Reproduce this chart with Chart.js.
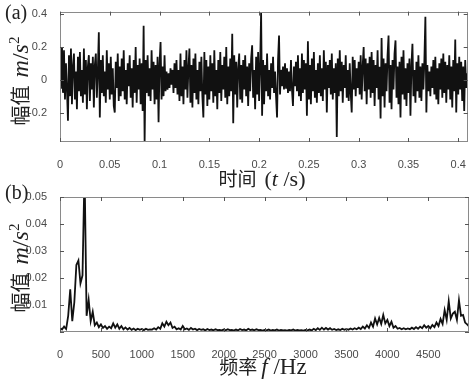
<!DOCTYPE html>
<html>
<head>
<meta charset="utf-8">
<script src="https://cdn.jsdelivr.net/npm/chart.js@4"></script>
<style>
  body { margin: 0; background: #fff; }
  #wrap { position: relative; width: 474px; height: 384px; overflow: hidden; }
  canvas { position: absolute; left: 0; }
  .txt { position: absolute; white-space: nowrap; color: #222; font-family: "Liberation Serif", serif; }
  .cjk { font-family: "Noto Sans CJK SC", sans-serif; }
  .ytitle { transform: translate(-50%, -50%) rotate(-90deg); }
  .xtitle { transform: translate(-50%, -50%); }
</style>
</head>
<body>
<div id="wrap">
  <canvas id="chart-a" width="474" height="170" style="top:0px"></canvas>
  <canvas id="chart-b" width="474" height="180" style="top:180px"></canvas>

  <div class="txt" style="left:5px;top:1px;font-size:20px">(a)</div>
  <div class="txt" style="left:5px;top:181px;font-size:20px">(b)</div>

  <div class="txt ytitle" style="left:19px;top:81px"><span class="cjk" style="font-size:20px">幅值</span>&nbsp;&nbsp;<span style="font-size:24px"><i>m</i>/<i>s</i><sup style="font-size:15px">2</sup></span></div>
  <div class="txt ytitle" style="left:19px;top:268px"><span class="cjk" style="font-size:20px">幅值</span>&nbsp;&nbsp;<span style="font-size:24px"><i>m</i>/<i>s</i><sup style="font-size:15px">2</sup></span></div>

  <div class="txt xtitle" style="left:262px;top:178px"><span class="cjk" style="font-size:19px">时间</span>&nbsp;&nbsp;<span style="font-size:22px">(<i>t</i> /s)</span></div>
  <div class="txt xtitle" style="left:263px;top:366px"><span class="cjk" style="font-size:19px">频率</span>&nbsp;<span style="font-size:23px"><i>f</i> /Hz</span></div>
</div>

<script>
// (a) time signal, one value per ms
const sample_step = 0.001;
const signal_amplitude = [
  -0.05, 0.12, 0.2, -0.08, 0.18, -0.12, 0.1, -0.06, -0.25, 0.15,
  -0.1, 0.19, -0.15, 0.08, 0.16, -0.12, 0.05, -0.18, 0.14, -0.07,
  0.17, -0.1, 0.06, -0.14, 0.19, -0.09, 0.12, -0.18, 0.08, 0.15,
  -0.13, 0.1, -0.06, 0.14, -0.17, 0.09, 0.16, -0.11, 0.05, 0.29,
  -0.23, 0.12, -0.08, 0.15, -0.1, 0.05, -0.14, 0.18, -0.06, 0.1,
  -0.12, 0.14, -0.09, 0.07, -0.16, -0.2, 0.11, -0.05, 0.16, -0.13,
  0.08, -0.1, 0.13, -0.07, 0.18, -0.12, 0.06, -0.15, 0.1, -0.04,
  0.15, -0.11, 0.07, -0.17, 0.12, -0.08, 0.2, -0.14, 0.09, -0.06,
  0.13, -0.15, 0.1, -0.19, 0.33, -0.38, 0.12, -0.08, 0.15, -0.1,
  0.07, -0.13, 0.18, -0.06, 0.11, -0.15, 0.09, -0.12, 0.14, -0.26,
  0.1, 0.23, -0.12, 0.08, -0.1, 0.15, -0.07, 0.05, -0.06, 0.04,
  -0.05, 0.07, -0.03, 0.06, -0.08, 0.1, -0.05, 0.12, -0.09, 0.06,
  -0.13, 0.16, -0.1, 0.08, -0.15, 0.12, -0.06, 0.18, -0.11, 0.07,
  0.19, -0.14, 0.09, -0.17, 0.13, -0.08, 0.16, -0.12, 0.06, -0.15,
  0.11, -0.07, 0.14, -0.1, -0.23, 0.17, -0.09, 0.12, -0.16, 0.08,
  -0.12, 0.15, -0.07, 0.1, -0.14, 0.18, -0.1, 0.06, -0.18, 0.12,
  -0.08, 0.17, -0.13, 0.09, -0.06, 0.14, -0.11, 0.2, -0.15, 0.08,
  -0.1, 0.13, -0.07, 0.28, -0.265, 0.15, -0.09, 0.11, -0.17, 0.07,
  0.16, -0.12, 0.09, -0.14, 0.12, -0.06, 0.15, -0.1, 0.08, -0.16,
  0.1, -0.07, 0.13, 0.21, -0.11, 0.06, -0.18, 0.14, -0.09, 0.17,
  -0.13, 0.08, 0.412, -0.22, 0.12, -0.15, 0.09, -0.07, 0.16, -0.1,
  0.06, -0.12, 0.1, -0.05, 0.14, -0.08, 0.05, -0.1, -0.23, 0.12,
  0.27, -0.09, 0.06, -0.04, 0.08, -0.06, 0.1, -0.05, 0.07, -0.08,
  0.05, -0.07, 0.12, -0.06, -0.16, 0.08, -0.04, 0.11, -0.07, 0.15,
  -0.1, 0.07, -0.13, 0.16, -0.08, 0.12, -0.06, 0.1, -0.22, 0.235,
  -0.12, 0.09, -0.15, 0.13, -0.07, 0.17, -0.11, 0.06, -0.14, 0.1,
  -0.08, 0.15, -0.1, 0.07, -0.13, 0.18, -0.06, 0.11, -0.2, 0.09,
  -0.05, 0.12, -0.09, 0.16, -0.12, 0.07, -0.08, 0.1, -0.35, 0.13,
  -0.1, 0.18, -0.07, 0.11, -0.14, 0.09, -0.05, 0.15, -0.11, 0.06,
  -0.13, 0.1, -0.08, -0.2, 0.14, -0.06, 0.12, -0.1, 0.07, -0.05,
  0.11, -0.09, 0.15, -0.12, 0.08, 0.2, -0.07, 0.13, -0.15, 0.1,
  -0.06, 0.14, -0.11, 0.17, -0.08, 0.12, -0.16, 0.09, -0.05, 0.18,
  -0.12, 0.08, -0.236, 0.255, -0.1, 0.13, -0.17, 0.1, -0.07, 0.15,
  0.27, -0.14, 0.09, -0.18, 0.12, -0.06, 0.16, 0.24, -0.11, 0.08,
  -0.15, 0.11, -0.23, 0.14, -0.09, 0.18, -0.12, 0.07, -0.16, 0.1,
  -0.08, 0.13, -0.22, 0.09, 0.22, -0.1, 0.06, -0.14, 0.11, -0.07,
  0.15, -0.11, 0.08, -0.13, 0.1, -0.06, 0.12, 0.385, -0.2, 0.09,
  -0.07, 0.05, -0.1, 0.08, -0.05, 0.12, -0.09, 0.14, -0.12, 0.07,
  -0.15, 0.1, -0.06, 0.13, -0.11, 0.16, -0.08, 0.11, -0.14, 0.09,
  -0.06, 0.15, -0.12, 0.08, -0.17, 0.12, -0.07, 0.245, -0.2, 0.1,
  -0.09, 0.14, -0.06, 0.11, -0.13, 0.08, -0.19, 0.12, -0.05, 0.04
];

// (b) amplitude spectrum, one value every 25 Hz
const freq_step = 25;
const spectrum_amplitude = [
  0.0015, 0.0009, 0.002, 0.0011, 0.006, 0.0158, 0.004, 0.011, 0.0248, 0.0265,
  0.018, 0.021, 0.06, 0.006, 0.012, 0.004, 0.0075, 0.0025, 0.0035, 0.0018,
  0.0028, 0.0015, 0.0022, 0.0012, 0.002, 0.0014, 0.0032, 0.0016, 0.0028, 0.0012,
  0.0022, 0.001, 0.0017, 0.0009, 0.0015, 0.0008, 0.0013, 0.0007, 0.0012, 0.0008,
  0.0011, 0.0007, 0.0012, 0.0008, 0.001, 0.0009, 0.0014, 0.0009, 0.0018, 0.0012,
  0.0032, 0.002, 0.0038, 0.0025, 0.0035, 0.0015, 0.002, 0.001, 0.0014, 0.0009,
  0.0022, 0.001, 0.0013, 0.0008, 0.0015, 0.0009, 0.0012, 0.0007, 0.0011, 0.0008,
  0.001, 0.0006, 0.0011, 0.0007, 0.0009, 0.0006, 0.001, 0.0007, 0.0008, 0.0006,
  0.0009, 0.0006, 0.001, 0.0007, 0.0008, 0.0005, 0.0009, 0.0006, 0.0011, 0.0007,
  0.0009, 0.0006, 0.0012, 0.0007, 0.0009, 0.0006, 0.001, 0.0007, 0.0008, 0.0005,
  0.0008, 0.0006, 0.0009, 0.0005, 0.0008, 0.0006, 0.0009, 0.0005, 0.0008, 0.0006,
  0.0007, 0.0005, 0.0008, 0.0006, 0.0009, 0.0005, 0.0008, 0.0006, 0.0007, 0.0005,
  0.0008, 0.0006, 0.0009, 0.0006, 0.0012, 0.0007, 0.0014, 0.0008, 0.0016, 0.0009,
  0.0015, 0.0009, 0.0014, 0.0008, 0.0011, 0.0007, 0.001, 0.0007, 0.0012, 0.0008,
  0.0011, 0.0008, 0.0013, 0.0009, 0.0014, 0.001, 0.0016, 0.0011, 0.002, 0.0013,
  0.0025, 0.0015, 0.0035, 0.002, 0.005, 0.0028, 0.0052, 0.003, 0.0063, 0.0032,
  0.0045, 0.0022, 0.0038, 0.0016, 0.0022, 0.0012, 0.0015, 0.001, 0.0014, 0.001,
  0.0013, 0.001, 0.0016, 0.0011, 0.0018, 0.0012, 0.002, 0.0014, 0.0025, 0.0016,
  0.0022, 0.0014, 0.0026, 0.0018, 0.0035, 0.0022, 0.0048, 0.003, 0.0081, 0.0045,
  0.0114, 0.005, 0.0068, 0.0075, 0.0045, 0.0118, 0.006, 0.0063, 0.0035, 0.0028,
  0.002
];

const time_ticks = [0, 0.05, 0.1, 0.15, 0.2, 0.25, 0.3, 0.35, 0.4];
const time_tick_labels = ["0", "0.05", "0.1", "0.15", "0.2", "0.25", "0.3", "0.35", "0.4"];
const amp_ticks_a = [-0.2, 0, 0.2, 0.4];
const amp_tick_labels_a = ["-0.2", "0", "0.2", "0.4"];
const freq_ticks = [0, 500, 1000, 1500, 2000, 2500, 3000, 3500, 4000, 4500];
const freq_tick_labels = ["0", "500", "1000", "1500", "2000", "2500", "3000", "3500", "4000", "4500"];
const amp_ticks_b = [0, 0.01, 0.02, 0.03, 0.04, 0.05];
const amp_tick_labels_b = ["", "0.01", "0.02", "0.03", "0.04", "0.05"];


// matlab style box with inward ticks on all four sides
const box_ticks = {
    id: "box_ticks",
    afterDraw(chart) {
        const ctx = chart.ctx;
        const area = chart.chartArea;
        const x = chart.scales.x;
        const y = chart.scales.y;
        ctx.save();
        ctx.lineWidth = 1;
        ctx.strokeStyle = "#8a8a8a";
        ctx.strokeRect(Math.round(area.left) + 0.5, Math.round(area.top) + 0.5,
            Math.round(area.right - area.left) - 1, Math.round(area.bottom - area.top) - 1);
        ctx.strokeStyle = "#555";
        ctx.beginPath();
        x.ticks.forEach(t => {
            let px = Math.round(x.getPixelForValue(t.value)) + 0.5;
            ctx.moveTo(px, area.bottom);
            ctx.lineTo(px, area.bottom - 4);
            ctx.moveTo(px, area.top);
            ctx.lineTo(px, area.top + 4);
        });
        y.ticks.forEach(t => {
            let py = Math.round(y.getPixelForValue(t.value)) + 0.5;
            ctx.moveTo(area.left, py);
            ctx.lineTo(area.left + 4, py);
            ctx.moveTo(area.right, py);
            ctx.lineTo(area.right - 4, py);
        });
        ctx.stroke();
        ctx.restore();
    }
};

function make_panel(canvas_id, values, step, x_range, y_range, x_ticks, x_labels, y_ticks, y_labels, pad_top, line_width) {
    let points = values.map((v, i) => ({x: i * step, y: v}));
    let tick_font = {family: "'Liberation Sans', Arial, sans-serif", size: 11};

    return new Chart(document.getElementById(canvas_id), {
        type: "line",
        data: {
            datasets: [{
                data: points,
                borderColor: "#111",
                borderWidth: line_width,
                pointRadius: 0,
                tension: 0,
                clip: 0
            }]
        },
        options: {
            responsive: false,
            animation: false,
            events: [],
            layout: {padding: {top: pad_top, right: 5, left: 0, bottom: 0}},
            plugins: {legend: {display: false}, tooltip: {enabled: false}},
            scales: {
                x: {
                    type: "linear",
                    min: x_range[0],
                    max: x_range[1],
                    grid: {display: false},
                    border: {display: false},
                    afterBuildTicks: scale => { scale.ticks = x_ticks.map(v => ({value: v})); },
                    afterFit: scale => { scale.height = 28; },
                    ticks: {
                        autoSkip: false,
                        maxRotation: 0,
                        padding: 8,
                        color: "#4a4a4a",
                        font: tick_font,
                        callback: (value, index) => x_labels[index]
                    }
                },
                y: {
                    type: "linear",
                    min: y_range[0],
                    max: y_range[1],
                    grid: {display: false},
                    border: {display: false},
                    afterBuildTicks: scale => { scale.ticks = y_ticks.map(v => ({value: v})); },
                    afterFit: scale => { scale.width = 60; },
                    ticks: {
                        autoSkip: false,
                        padding: 5,
                        color: "#4a4a4a",
                        font: tick_font,
                        callback: (value, index) => y_labels[index]
                    }
                }
            }
        },
        plugins: [box_ticks]
    });
}

make_panel("chart-a", signal_amplitude, sample_step, [0, 0.4095], [-0.38, 0.416],
    time_ticks, time_tick_labels, amp_ticks_a, amp_tick_labels_a, 10, 1.8);

make_panel("chart-b", spectrum_amplitude, freq_step, [0, 4997.6], [0, 0.05],
    freq_ticks, freq_tick_labels, amp_ticks_b, amp_tick_labels_b, 17, 1.8);
</script>
</body>
</html>
